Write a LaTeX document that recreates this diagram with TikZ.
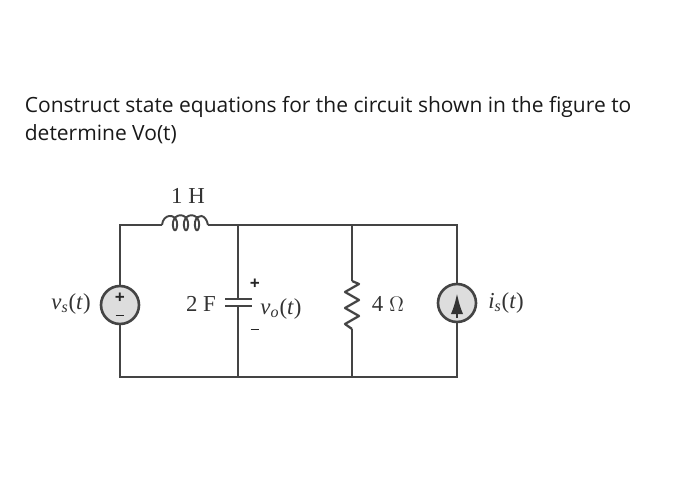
\documentclass[tikz,border=0pt]{standalone}
\usepackage{fontspec}
\setmainfont{Open Sans}
\newfontfamily\labelfont{Liberation Serif}
\usetikzlibrary{arrows.meta}
\tikzset{>=latex}
\definecolor{wirecolor}{HTML}{444444}
\definecolor{sourcefill}{HTML}{DDDDDD}
\newcommand{\minussign}{\rule[1.2pt]{5pt}{0.9pt}}
\tikzstyle{wire}=[draw=wirecolor,line width=1.3]
\tikzstyle{coil}=[draw=wirecolor,line width=1.1]
\tikzstyle{source}=[circle,draw=wirecolor,fill=sourcefill,line width=1.5,minimum size=0.76cm,inner sep=0]
\tikzstyle{circuitlabel}=[text=black!80,font=\labelfont\fontsize{13}{14}\selectfont,inner sep=0]
\tikzstyle{signlabel}=[text=black!85,font=\bfseries\fontsize{10}{10}\selectfont,inner sep=0,text height=5pt,text depth=0pt]
\tikzstyle{question}=[anchor=base west,inner sep=0,text=black!90,font=\fontsize{11.95}{14}\selectfont]
\begin{document}
\begin{tikzpicture}[x=0.02cm,y=-0.02cm,line width=1]
	\useasboundingbox (0,0) rectangle (700,500);

	% Question
	\node[question] (question1) at (24,112.5) {Construct state equations for the circuit shown in the figure to};
	\node[question] (question2) at (24,140) {determine Vo(t)};

	% Corners
	\coordinate (TL) at (120,225);
	\coordinate (BL) at (120,377);
	\coordinate (TC) at (238,225);
	\coordinate (BC) at (238,377);
	\coordinate (TR) at (352,225);
	\coordinate (BR) at (352,377);
	\coordinate (TE) at (457,225);
	\coordinate (BE) at (457,377);
	\coordinate (coilA) at (162,225);
	\coordinate (coilB) at (208,225);
	\coordinate (resA) at (352,281);
	\coordinate (resB) at (352,329);

	% Sources
	\node[source] (vs) at (120,305) {};
	\node[source] (is) at (457,303) {};
	\node[signlabel] (vsplus) at (120,299) {+};
	\node[signlabel] (vsminus) at (120,314) {\minussign};
	\draw[-{Latex[length=12,width=7]},line width=1.5,black!80] (457,318) -- (457,293);

	% Circuits
	\draw[wire] (vs) -- (TL) -- (coilA);
	\draw[wire] (coilB) -- (TC) -- (TR) -- (TE) -- (is);
	\draw[wire] (vs) -- (BL) -- (BC) -- (BR) -- (BE) -- (is);
	\draw[wire] (TR) -- (resA);
	\draw[wire] (resB) -- (BR);
	\draw[wire] (TC) -- (BC);

	% Inductor
	\draw[coil] (coilA) .. controls (163,214) and (175,213) .. (177,222)
		.. controls (178,233) and (172,233) .. (173,222)
		.. controls (175,213) and (186,213) .. (188,222)
		.. controls (189,233) and (183,233) .. (184,222)
		.. controls (186,213) and (197,213) .. (199,222)
		.. controls (200,233) and (194,233) .. (195,222)
		.. controls (197,213) and (206,214) .. (coilB);

	% Resistor
	\draw[wire,line join=round] (resA) -- (359,284) -- (345,292) -- (359,300) -- (345,308) -- (359,316) -- (345,324) -- (resB);

	% Capacitor
	\fill[white] (222,299) rectangle (255,306);
	\draw[wire] (225,299) -- (252,299);
	\draw[wire] (225,306) -- (252,306);

	% Nodes
	\node[circuitlabel] (L) at (188,196) {1 H};
	\node[circuitlabel] (C) at (201,304) {2 F};
	\node[circuitlabel] (R) at (388,304) {4 $\Omega$};
	\node[circuitlabel] (vslabel) at (71,304) {\textit{v\textsubscript{s}}(\textit{t})};
	\node[circuitlabel] (volabel) at (281,309) {\textit{v\textsubscript{o}}(\textit{t})};
	\node[circuitlabel] (islabel) at (506,303) {\textit{i\textsubscript{s}}(\textit{t})};
	\node[signlabel] (voplus) at (255,285) {+};
	\node[signlabel] (vominus) at (255,328) {\minussign};
\end{tikzpicture}
\end{document}
